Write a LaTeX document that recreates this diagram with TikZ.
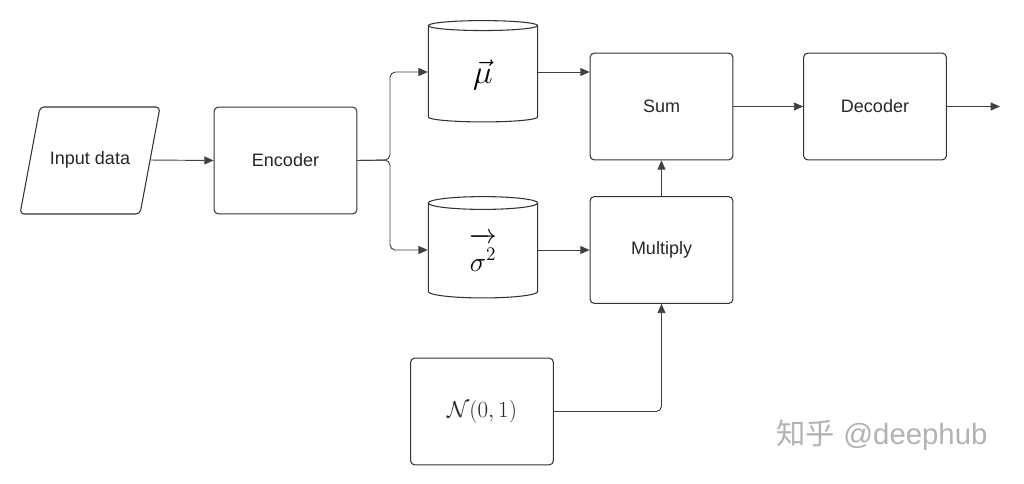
\documentclass[tikz,border=0pt]{standalone}
\usepackage{fontspec}
\setmainfont{Liberation Sans}
\newfontfamily\cjk{Noto Sans CJK SC}
\usepackage{amsmath}
\usetikzlibrary{arrows.meta,shapes.geometric}
\begin{document}
\begin{tikzpicture}[x=0.75pt,y=-0.75pt,
  box/.style={draw=black!80,rounded corners=3pt,line width=0.8pt,minimum width=107pt,minimum height=80pt,font=\fontsize{13.5}{15}\selectfont,text=black!85},
  cyl/.style={cylinder,shape border rotate=90,draw=black!80,line width=0.8pt,minimum width=82pt,minimum height=76pt,aspect=0.35},
  arr/.style={draw=black!75,line width=0.7pt,-{Triangle[length=7pt,width=6pt]}}]
\useasboundingbox (0,0) rectangle (1024,483);
\node[minimum width=105pt,minimum height=80pt,font=\fontsize{13.5}{15}\selectfont,text=black!85] (in) at (90,160) {Input data};
\draw[draw=black!80,line width=0.8pt,rounded corners=3pt] (40,107) -- (160,107) -- (140,214) -- (20,214) -- cycle;
\node[box] (enc) at (285.5,160.5) {Encoder};
\node[cyl] (mu) at (483,75) {\fontsize{32}{34}\selectfont$\vec{\mu}$};
\node[cyl] (sg) at (483,252) {\fontsize{22}{26}\selectfont$\overrightarrow{\rule{0pt}{0.95em}\sigma^2}$};
\node[box] (sum) at (661.5,106.5) {Sum};
\node[box] (mul) at (661.5,250) {Multiply};
\node[box] (dec) at (875,106.5) {Decoder};
\node[box] (n) at (482,411.5) {\fontsize{17}{20}\selectfont$\mathcal{N}(0,1)$};
\coordinate (br) at (390,160);
\coordinate (out) at (1000,106.5);
\draw[arr] (150,160) -- (enc.west);
\draw[arr,rounded corners=4pt] (enc.east) -- (br) |- (mu.west|-0,72);
\draw[arr,rounded corners=4pt] (enc.east) -- (br) |- (sg.west|-0,250);
\draw[arr] (mu.east|-0,72) -- (sum.west|-0,72);
\draw[arr] (sg.east|-0,250) -- (mul.west);
\draw[arr] (mul.north) -- (sum.south);
\draw[arr,rounded corners=4pt] (n.east) -| (mul.south);
\draw[arr] (sum.east) -- (dec.west);
\draw[arr] (dec.east) -- (out);
\node[text=black!30,font=\fontsize{22}{24}\selectfont] (wm) at (882,435) {{\cjk 知乎} @deephub};
\end{tikzpicture}
\end{document}
